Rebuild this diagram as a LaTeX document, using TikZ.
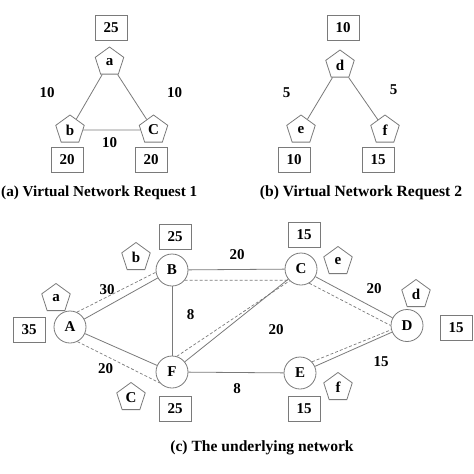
\documentclass[tikz,border=0pt]{standalone}
\usepackage{fontspec}
\setmainfont{Liberation Serif}
\usetikzlibrary{shapes.geometric}
\definecolor{ln}{HTML}{7A7A7A}
\begin{document}
\begin{tikzpicture}[x=1pt,y=-1pt,
  every node/.style={font=\bfseries\fontsize{15}{18}\selectfont, text=black},
  valbox/.style={draw=ln, line width=0.8pt, minimum width=32pt, minimum height=25pt, inner sep=0pt},
  pent/.style={draw=ln, line width=0.8pt, regular polygon, regular polygon sides=5, minimum size=30pt, inner sep=0pt},
  phys/.style={draw=ln, line width=0.8pt, circle, minimum size=32pt, inner sep=0pt},
  link/.style={draw=ln, line width=0.8pt},
  embed/.style={draw=ln, line width=0.7pt, dash pattern=on 3pt off 2pt},
  lbl/.style={inner sep=0pt},
  captext/.style={font=\bfseries\fontsize{15.6}{18}\selectfont, inner sep=0pt}]
\useasboundingbox (0,0) rectangle (474,474);

% ---------- (a) Virtual Network Request 1 ----------
\node[pent] (va) at (109.5,62) {a};
\node[pent] (vb) at (70,130) {b};
\node[pent] (vc) at (153.5,130) {C};
\node[valbox] (wa) at (111,28) {25};
\node[valbox] (wb) at (67,160) {20};
\node[valbox] (wc) at (151,160) {20};
\draw[link] (va) -- (vb);
\draw[link] (va) -- (vc);
\draw[link] (vb) -- (vc);
\node[lbl] (lab) at (47,93) {10};
\node[lbl] (lac) at (174.5,93) {10};
\node[lbl] (lbc) at (109.5,142.5) {10};
\node[captext, font=\bfseries\fontsize{15.2}{18}\selectfont, anchor=west] (capa) at (1,193) {(a) Virtual Network Request 1};

% ---------- (b) Virtual Network Request 2 ----------
\node[pent] (vd) at (340,65) {d};
\node[pent] (ve) at (301,130) {e};
\node[pent] (vf) at (385,130) {f};
\node[valbox] (wd) at (343,28) {10};
\node[valbox] (we) at (294,160) {10};
\node[valbox] (wf) at (378,160) {15};
\draw[link] (vd) -- (ve);
\draw[link] (vd) -- (vf);
\node[lbl] (lde) at (286.5,93) {5};
\node[lbl] (ldf) at (393.5,90) {5};
\node[captext] (capb) at (361,193) {(b) Virtual Network Request 2};

% ---------- (c) The underlying network ----------
\node[phys] (A) at (70,327) {A};
\node[phys] (B) at (172,270) {B};
\node[phys] (F) at (172,372) {F};
\node[phys] (C) at (301,269) {C};
\node[phys] (D) at (407,325.5) {D};
\node[phys] (E) at (300,373) {E};

\node[valbox] (cA) at (29,330) {35};
\node[valbox] (cB) at (175,237) {25};
\node[valbox] (cF) at (175,409) {25};
\node[valbox] (cC) at (304,235) {15};
\node[valbox] (cD) at (456,328) {15};
\node[valbox] (cE) at (304,409) {15};

\node[pent] (pa) at (56,298.5) {a};
\node[pent] (pb) at (136,257.5) {b};
\node[pent] (pc) at (131,397.5) {C};
\node[pent] (pe) at (338,261.5) {e};
\node[pent] (pd) at (416,294.5) {d};
\node[pent] (pf) at (338,387.5) {f};

% physical links
\draw[link] (A) -- (B);
\draw[link] (A) -- (F);
\draw[link] (B) -- (C);
\draw[link] (B) -- (F);
\draw[link] (F) -- (C);
\draw[link] (F) -- (E);
\draw[link] (C) -- (D);
\draw[link] (E) -- (D);

% embedding paths
\draw[embed] (A.65) -- (B.188);
\draw[embed] (A.297) -- (F.222);
\draw[embed] (B.321) -- (C.223);
\draw[embed] (F.73) -- (C.226);
\draw[embed] (C.300) -- (D.180);
\draw[embed] (E.43) -- (D.195);

% link labels
\node[lbl] (lAB) at (107,289.5) {30};
\node[lbl] (lBF) at (190.5,315) {8};
\node[lbl] (lAF) at (105.5,368.5) {20};
\node[lbl] (lBC) at (237,255) {20};
\node[lbl] (lFC) at (276,329.5) {20};
\node[lbl] (lFE) at (237,388.5) {8};
\node[lbl] (lCD) at (374,288.5) {20};
\node[lbl] (lED) at (381,361.5) {15};

\node[captext] (capc) at (262,448) {(c) The underlying network};
\end{tikzpicture}
\end{document}
